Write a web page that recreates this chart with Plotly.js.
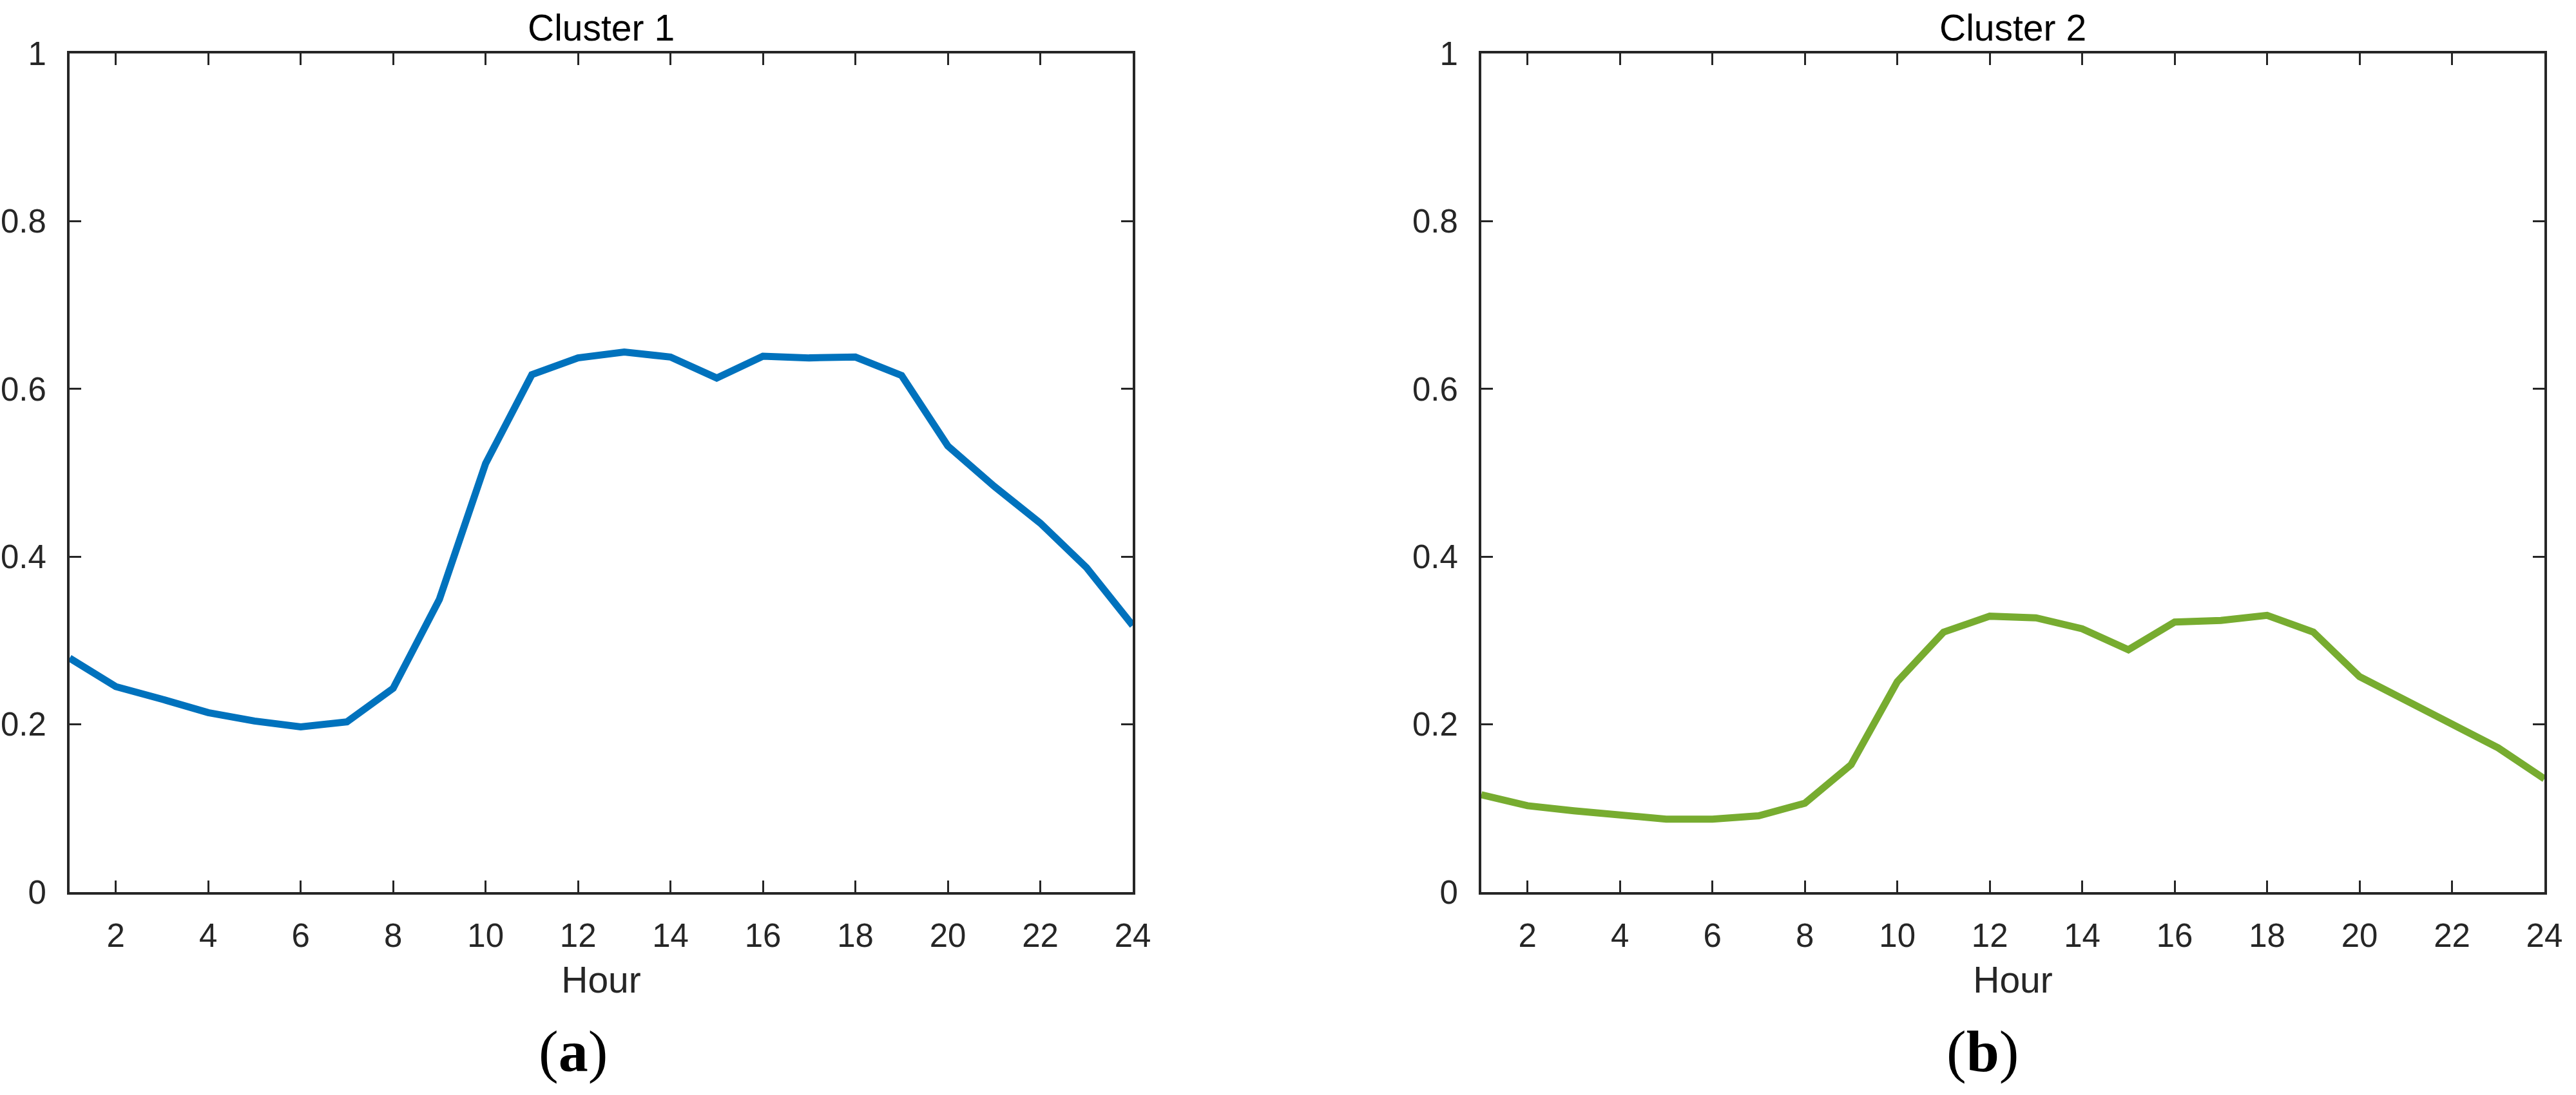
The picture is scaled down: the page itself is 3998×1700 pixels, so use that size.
<!DOCTYPE html>
<html>
<head>
<meta charset="utf-8">
<script src="https://cdn.plot.ly/plotly-3.0.1.min.js"></script>
<style>html,body{margin:0;padding:0;background:#fff;}#chart{width:3998px;height:1700px;}</style>
</head>
<body>
<div id="chart"></div>
<script>
const hours = [1,2,3,4,5,6,7,8,9,10,11,12,13,14,15,16,17,18,19,20,21,22,23,24];
const cluster1 = [0.279,0.245,0.230,0.214,0.204,0.197,0.203,0.243,0.349,0.511,0.617,0.637,0.644,0.638,0.613,0.639,0.637,0.638,0.616,0.532,0.484,0.440,0.387,0.318];
const cluster2 = [0.116,0.103,0.097,0.092,0.087,0.087,0.091,0.106,0.152,0.251,0.310,0.329,0.327,0.314,0.289,0.322,0.324,0.330,0.310,0.257,0.228,0.200,0.172,0.135];
const xTicks = [2,4,6,8,10,12,14,16,18,20,22,24];
const yTicks = [0,0.2,0.4,0.6,0.8,1];
const yTickText = ['0','0.2','0.4','0.6','0.8','1'];
const titles = ['Cluster 1','Cluster 2'];
const panelLabels = ['a','b'];

const axisColor = '#262626';
const tickFont = {family:'Liberation Sans, Arial, sans-serif', size:51, color:axisColor};

function xAxis(domain, anchor){
  return {
    domain: domain, anchor: anchor, range:[1,24], tickvals:xTicks, ticktext:xTicks.map(String),
    ticks:'inside', ticklen:18, tickwidth:3, tickcolor:axisColor,
    showline:true, linewidth:4, linecolor:axisColor, mirror:'ticks',
    showgrid:false, zeroline:false, tickfont:tickFont, ticklabelstandoff:20,
    title:{text:'Hour', font:{family:'Liberation Sans, Arial, sans-serif', size:57, color:axisColor}, standoff:22}
  };
}
function yAxis(anchor){
  return {
    domain:[0.18529,0.95118], anchor: anchor, range:[0,1], tickvals:yTicks, ticktext:yTickText,
    ticks:'inside', ticklen:18, tickwidth:3, tickcolor:axisColor,
    showline:true, linewidth:4, linecolor:axisColor, mirror:'ticks',
    showgrid:false, zeroline:false, tickfont:tickFont, ticklabelstandoff:22
  };
}

const data = [
  {x:hours, y:cluster1, type:'scatter', mode:'lines', line:{color:'#0072BD', width:11}, xaxis:'x', yaxis:'y', showlegend:false},
  {x:hours, y:cluster2, type:'scatter', mode:'lines', line:{color:'#77AC30', width:11}, xaxis:'x2', yaxis:'y2', showlegend:false}
];

const layout = {
  width:3998, height:1700,
  margin:{l:0,r:0,t:0,b:0},
  paper_bgcolor:'#fff', plot_bgcolor:'#fff',
  xaxis: xAxis([0.02701,0.43972],'y'),
  yaxis: yAxis('x'),
  xaxis2: xAxis([0.57504,0.98774],'y2'),
  yaxis2: yAxis('x2'),
  annotations: [
    {text:titles[0], xref:'paper', yref:'paper', x:(0.02701+0.43972)/2, y:1-43/1700, xanchor:'center', yanchor:'middle', showarrow:false, font:{family:'Liberation Sans, Arial, sans-serif', size:57, color:'#000'}},
    {text:titles[1], xref:'paper', yref:'paper', x:(0.57504+0.98774)/2, y:1-43/1700, xanchor:'center', yanchor:'middle', showarrow:false, font:{family:'Liberation Sans, Arial, sans-serif', size:57, color:'#000'}},
    {text:'(<b>'+panelLabels[0]+'</b>)', xref:'paper', yref:'paper', x:889/3998, y:1-1632/1700, xanchor:'center', yanchor:'middle', showarrow:false, font:{family:'Liberation Serif, Times New Roman, serif', size:92, color:'#000'}},
    {text:'(<b>'+panelLabels[1]+'</b>)', xref:'paper', yref:'paper', x:3077/3998, y:1-1632/1700, xanchor:'center', yanchor:'middle', showarrow:false, font:{family:'Liberation Serif, Times New Roman, serif', size:92, color:'#000'}}
  ]
};

Plotly.newPlot('chart', data, layout, {staticPlot:true, displayModeBar:false});
</script>
</body>
</html>
